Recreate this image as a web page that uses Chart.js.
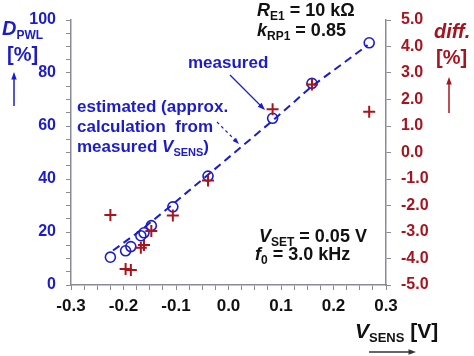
<!DOCTYPE html>
<html>
<head>
<meta charset="utf-8">
<script src="https://cdn.jsdelivr.net/npm/chart.js@4.4.1/dist/chart.umd.min.js"></script>
<style>
html,body{margin:0;padding:0;background:#fff;}
canvas{display:block;}
</style>
</head>
<body>
<canvas id="c" width="474" height="356"></canvas>
<script>
// ---- data ----
const vSens = [-0.225, -0.196, -0.186, -0.167, -0.161, -0.147, -0.106, -0.039, 0.084, 0.159, 0.268];
const dMeasured = [10.5, 12.9, 14.5, 18.6, 19.7, 22.4, 29.5, 41.1, 62.9, 76.1, 91.4];
const diffPct = [-2.36, -4.40, -4.43, -3.59, -3.49, -2.96, -2.38, -1.06, 1.63, 2.57, 1.54];
const vSensEst = [-0.220, -0.166, -0.106, -0.039, 0.084, 0.159, 0.265];
const dEstimated = [13.0, 20.8, 30.5, 41.6, 62.0, 75.0, 90.5];
const xTickLabels = ['-0.3', '-0.2', '-0.1', '0.0', '0.1', '0.2', '0.3'];
const leftTickLabels = ['0', '20', '40', '60', '80', '100'];

const BLUE = '#1c1ccc';
const RED = '#a8141e';
const AXIS = '#8a8a98';
const FONT = '"Liberation Sans", Arial, sans-serif';

function pts(xs, ys) { return xs.map((x, i) => ({ x: x, y: ys[i] })); }

function rich(ctx, parts, x, y, color) {
  ctx.fillStyle = color;
  ctx.textBaseline = 'alphabetic';
  ctx.textAlign = 'left';
  let cx = x;
  for (const p of parts) {
    ctx.font = p.f;
    ctx.fillText(p.t, cx, y + (p.dy || 0));
    cx += ctx.measureText(p.t).width + (p.gap || 0);
  }
}
function arrow(ctx, x1, y1, x2, y2, color, w, dash, head) {
  ctx.save();
  ctx.strokeStyle = color; ctx.fillStyle = color; ctx.lineWidth = w;
  ctx.setLineDash(dash || []);
  const a = Math.atan2(y2 - y1, x2 - x1);
  ctx.beginPath(); ctx.moveTo(x1, y1);
  ctx.lineTo(x2 - Math.cos(a) * head * 0.8, y2 - Math.sin(a) * head * 0.8); ctx.stroke();
  ctx.setLineDash([]);
  ctx.beginPath();
  ctx.moveTo(x2, y2);
  ctx.lineTo(x2 - head * Math.cos(a - 0.35), y2 - head * Math.sin(a - 0.35));
  ctx.lineTo(x2 - head * Math.cos(a + 0.35), y2 - head * Math.sin(a + 0.35));
  ctx.closePath(); ctx.fill();
  ctx.restore();
}

const B18 = 'bold 18px ' + FONT;
const I18 = 'italic bold 18px ' + FONT;
const S12 = 'bold 12px ' + FONT;
const B17 = 'bold 17px ' + FONT;
const I17 = 'italic bold 17px ' + FONT;
const S11 = 'bold 11px ' + FONT;

const annot = {
  id: 'annot',
  afterDraw(chart) {
    const ctx = chart.ctx;
    ctx.save();
    // left axis title
    rich(ctx, [{ t: 'D', f: 'italic bold 20px ' + FONT }, { t: 'PWL', f: S12, dy: 4 }], 2, 35, BLUE);
    rich(ctx, [{ t: '[%]', f: 'bold 20px ' + FONT }], 7, 61, BLUE);
    arrow(ctx, 14, 106, 14, 72, BLUE, 1.5, null, 8);
    // right axis title
    rich(ctx, [{ t: 'diff.', f: 'italic bold 20px ' + FONT }], 434, 38, RED);
    rich(ctx, [{ t: '[%]', f: 'bold 20px ' + FONT }], 436, 64, RED);
    arrow(ctx, 449, 113, 449, 77, RED, 1.5, null, 8);
    // parameters
    rich(ctx, [{ t: 'R', f: I18 }, { t: 'E1', f: S12, dy: 4 }, { t: ' = 10 kΩ', f: B18 }], 257, 16, '#111');
    rich(ctx, [{ t: 'k', f: I18 }, { t: 'RP1', f: S12, dy: 4 }, { t: ' = 0.85', f: B18 }], 257, 36, '#111');
    rich(ctx, [{ t: 'V', f: I18 }, { t: 'SET', f: S12, dy: 4 }, { t: ' = 0.05 V', f: B18 }], 259, 242, '#111');
    rich(ctx, [{ t: 'f', f: I18 }, { t: '0', f: S12, dy: 4 }, { t: ' = 3.0 kHz', f: B18 }], 255, 260, '#111');
    // x axis title
    rich(ctx, [{ t: 'V', f: 'italic bold 21px ' + FONT }, { t: 'SENS', f: 'bold 13px ' + FONT, dy: 4 }, { t: ' [V]', f: 'bold 21px ' + FONT }], 355, 338, '#111');
    arrow(ctx, 369, 352, 416, 352, '#333', 1.5, null, 8);
    // measured label
    rich(ctx, [{ t: 'measured', f: B17 }], 188, 68, BLUE);
    arrow(ctx, 230, 75, 265, 110, BLUE, 1.2, null, 8);
    // estimated label
    rich(ctx, [{ t: 'estimated (approx.', f: B17 }], 77, 112, BLUE);
    rich(ctx, [{ t: 'calculation  from', f: B17 }], 77, 132, BLUE);
    rich(ctx, [{ t: 'measured ', f: B17 }, { t: 'V', f: I17 }, { t: 'SENS', f: S11, dy: 4 }, { t: ')', f: B17 }], 77, 152, BLUE);
    arrow(ctx, 217, 122, 239, 144, BLUE, 1.2, [3, 3], 7);
    ctx.restore();
  }
};

new Chart(document.getElementById('c'), {
  type: 'scatter',
  data: {
    datasets: [
      {
        label: 'estimated', data: pts(vSensEst, dEstimated), yAxisID: 'y', showLine: true,
        borderColor: BLUE, borderWidth: 2, borderDash: [8, 5], pointRadius: 0, fill: false, order: 3
      },
      {
        label: 'measured', data: pts(vSens, dMeasured), yAxisID: 'y',
        pointStyle: 'circle', pointRadius: 5, borderColor: BLUE, borderWidth: 1.6,
        backgroundColor: 'rgba(0,0,0,0)', order: 2
      },
      {
        label: 'diff', data: pts(vSens, diffPct), yAxisID: 'y2',
        pointStyle: 'cross', pointRadius: 6, borderColor: RED, borderWidth: 2,
        backgroundColor: RED, order: 1
      }
    ]
  },
  options: {
    responsive: false, animation: false,
    layout: { padding: { top: 20, left: 0, right: 0, bottom: 0 } },
    plugins: { legend: { display: false }, tooltip: { enabled: false } },
    scales: {
      x: {
        type: 'linear', min: -0.3, max: 0.3,
        afterFit(s) { s.height = 71; },
        ticks: {
          stepSize: 0.025, autoSkip: false, maxRotation: 0, padding: 6,
          color: '#111', font: { family: FONT, size: 17, weight: 'bold' },
          callback(v) {
            const k = Math.round(v * 10);
            if (Math.abs(v * 10 - k) > 1e-6) return '';
            return xTickLabels[k + 3];
          }
        },
        grid: { drawOnChartArea: false, drawTicks: true, tickLength: 5, color: AXIS, lineWidth: 1 },
        border: { display: true, color: AXIS, width: 1.5 }
      },
      y: {
        type: 'linear', position: 'left', min: 0, max: 100,
        afterFit(s) { s.width = 71; },
        ticks: {
          stepSize: 5, autoSkip: false, padding: 10,
          color: BLUE, font: { family: FONT, size: 16, weight: 'bold' },
          callback(v) {
            if (v % 20 !== 0) return '';
            return leftTickLabels[v / 20];
          }
        },
        grid: { drawOnChartArea: false, drawTicks: true, tickLength: 5, color: AXIS, lineWidth: 1 },
        border: { display: true, color: AXIS, width: 1.5 }
      },
      y2: {
        type: 'linear', position: 'right', min: -5, max: 5,
        afterFit(s) { s.width = 88; },
        ticks: {
          stepSize: 1, autoSkip: false, padding: 10,
          color: RED, font: { family: FONT, size: 16, weight: 'bold' },
          callback(v) { return (Math.abs(v) < 1e-9 ? 0 : v).toFixed(1); }
        },
        grid: { drawOnChartArea: false, drawTicks: true, tickLength: 5, color: AXIS, lineWidth: 1 },
        border: { display: true, color: AXIS, width: 1.5 }
      }
    }
  },
  plugins: [annot]
});
</script>
</body>
</html>
